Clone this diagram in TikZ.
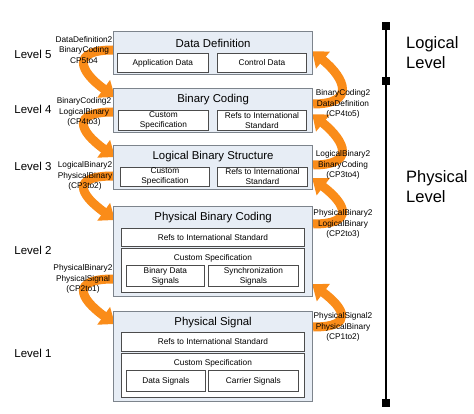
\documentclass[tikz,border=0pt]{standalone}
\usepackage{fontspec}
\setmainfont{Liberation Sans}
\usepackage{tikz}
\usetikzlibrary{calc}
\usetikzlibrary{arrows.meta}
\usetikzlibrary{backgrounds}
\usepackage{xcolor}
\definecolor{layerfill}{RGB}{231,237,245}
\definecolor{layerline}{RGB}{125,132,140}
\definecolor{cporange}{RGB}{250,140,25}

\begin{document}
\begin{tikzpicture}[x=1pt, y=-1pt,
    layer/.style={draw=layerline, fill=layerfill, line width=1.2pt, anchor=north west, minimum width=199pt, inner sep=0pt},
    part/.style={draw=black!70, fill=white, line width=0.8pt, anchor=north west, inner sep=0pt, align=center, font=\fontsize{8.3}{10}\selectfont},
    layertitle/.style={font=\fontsize{11.4}{13}\selectfont},
    cplabel/.style={align=center, inner sep=0pt, font=\fontsize{8.3}{10.6}\selectfont},
    levelname/.style={font=\fontsize{11.5}{13}\selectfont},
    scopename/.style={align=left, anchor=west, inner sep=0pt, font=\fontsize{16.5}{20}\selectfont},
    mark square/.style={fill=black, minimum size=8.5pt, inner sep=0pt},
    cpflow/.style={draw=cporange, line width=9pt, -{Triangle[length=14pt, width=21pt]}}]
    \useasboundingbox (0,0) rectangle (474,414);
    \node[layer, minimum height=43pt] (dd) at (113,31) {};
    \node[layertitle] (ddt) at ($(dd.north)+(0,12)$) {Data Definition};
    \node[part, minimum width=91pt, minimum height=19pt] (app) at (117,53) {Application Data};
    \node[part, minimum width=89pt, minimum height=19pt] (ctrl) at (217,53) {Control Data};
    \node[layer, minimum height=44pt] (bc) at (113,88) {};
    \node[layertitle] (bct) at ($(bc.north)+(0,12)$) {Binary Coding};
    \node[part, minimum width=90pt, minimum height=20pt] (bccus) at (118,110) {Custom\\Specification};
    \node[part, minimum width=89pt, minimum height=20pt] (bcref) at (217,110) {Refs to International\\Standard};
    \node[layer, minimum height=44pt] (lbs) at (113,145) {};
    \node[layertitle] (lbst) at ($(lbs.north)+(0,12)$) {Logical Binary Structure};
    \node[part, minimum width=89pt, minimum height=19pt] (lbscus) at (120,167) {Custom\\Specification};
    \node[part, minimum width=90pt, minimum height=19pt] (lbsref) at (217,167) {Refs to International\\Standard};
    \node[layer, minimum height=90pt] (pbc) at (113,206) {};
    \node[layertitle] (pbct) at ($(pbc.north)+(0,12)$) {Physical Binary Coding};
    \node[part, minimum width=183pt, minimum height=18pt] (pbcref) at (121,228) {Refs to International Standard};
    \node[part, minimum width=183pt, minimum height=44pt] (pbccus) at (121,248) {};
    \node[font=\fontsize{8.3}{10}\selectfont] (pbccust) at ($(pbccus.north)+(0,10)$) {Custom Specification};
    \node[part, minimum width=78pt, minimum height=21pt] (bds) at (126,265) {Binary Data\\Signals};
    \node[part, minimum width=90pt, minimum height=21pt] (sync) at (208,265) {Synchronization\\Signals};
    \node[layer, minimum height=90pt] (ps) at (113,311) {};
    \node[layertitle] (pst) at ($(ps.north)+(0,12)$) {Physical Signal};
    \node[part, minimum width=183pt, minimum height=19pt] (psref) at (121,332) {Refs to International Standard};
    \node[part, minimum width=183pt, minimum height=44pt] (pscus) at (121,353) {};
    \node[font=\fontsize{8.3}{10}\selectfont] (pscust) at ($(pscus.north)+(0,10)$) {Custom Specification};
    \node[part, minimum width=79pt, minimum height=21pt] (dsig) at (126,370) {Data Signals};
    \node[part, minimum width=90pt, minimum height=21pt] (csig) at (208,370) {Carrier Signals};
    \node[levelname] (lv5) at (33,54) {Level 5};
    \node[levelname] (lv4) at (33,109) {Level 4};
    \node[levelname] (lv3) at (33,166) {Level 3};
    \node[levelname] (lv2) at (33,250) {Level 2};
    \node[levelname] (lv1) at (33,353) {Level 1};
    \node[cplabel] (cp54) at (84,50) {DataDefinition2\\BinaryCoding\\CP5to4};
    \node[cplabel] (cp43) at (84,112) {BinaryCoding2\\LogicalBinary\\(CP4to3)};
    \node[cplabel] (cp32) at (85,176) {LogicalBinary2\\PhysicalBinary\\(CP3to2)};
    \node[cplabel] (cp21) at (83,279) {PhysicalBinary2\\PhysicalSignal\\(CP2to1)};
    \node[cplabel] (cp45) at (343,104) {BinaryCoding2\\DataDefinition\\(CP4to5)};
    \node[cplabel] (cp34) at (343,165) {LogicalBinary2\\BinaryCoding\\(CP3to4)};
    \node[cplabel] (cp23) at (343,224) {PhysicalBinary2\\LogicalBinary\\(CP2to3)};
    \node[cplabel] (cp12) at (343,327) {PhysicalSignal2\\PhysicalBinary\\(CP1to2)};
    \begin{pgfonlayer}{background}
    \draw[cpflow] (dd.west |- cp54) .. controls +(-42,0) and +(-36,-26) .. ($(bc.north west)+(2,9)$);
    \draw[cpflow] (bc.west |- cp43) .. controls +(-42,0) and +(-36,-26) .. ($(lbs.north west)+(2,12)$);
    \draw[cpflow] (lbs.west |- cp32) .. controls +(-42,0) and +(-36,-26) .. ($(pbc.north west)+(2,14)$);
    \draw[cpflow] (pbc.west |- cp21) .. controls +(-42,0) and +(-36,-26) .. ($(ps.north west)+(2,13)$);
    \draw[cpflow] (bc.east |- cp45) .. controls +(42,0) and +(34,28) .. ($(dd.south east)+(-1,-24)$);
    \draw[cpflow] (lbs.east |- cp34) .. controls +(42,0) and +(34,28) .. ($(bc.south east)+(-1,-19)$);
    \draw[cpflow] (pbc.east |- cp23) .. controls +(42,0) and +(34,26) .. ($(lbs.south east)+(-1,-12)$);
    \draw[cpflow] (ps.east |- cp12) .. controls +(42,0) and +(32,24) .. ($(pbc.south east)+(-1,-13)$);
    \end{pgfonlayer}
    \node[mark square] (sqtop) at (386,26) {};
    \node[mark square] (sqmid) at (386,81) {};
    \node[mark square] (sqbot) at (386,403) {};
    \begin{pgfonlayer}{background}
    \draw[line width=1.3pt] (sqtop.center) -- (sqbot.center);
    \end{pgfonlayer}
    \node[scopename] (logical) at (406,53) {Logical\\Level};
    \node[scopename] (physical) at (406,187) {Physical\\Level};
\end{tikzpicture}
\end{document}
